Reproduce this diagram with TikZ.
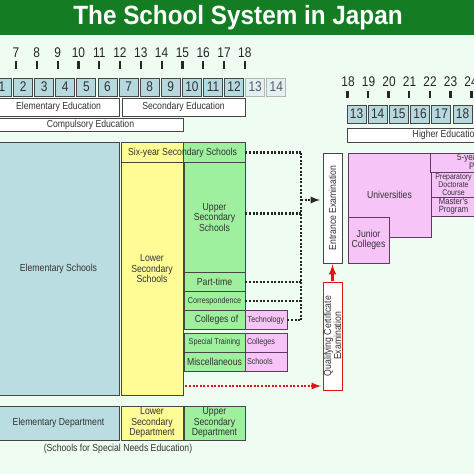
\documentclass[tikz,border=0pt]{standalone}
\usepackage{fontspec}
\setmainfont{Liberation Sans}[FakeStretch=0.85]
\newfontfamily\titlefont{Liberation Sans}[FakeStretch=0.92]
\usepackage{xcolor}
\usepackage{tikz}

\definecolor{titlegreen}{RGB}{20,125,35}
\definecolor{bgmint}{RGB}{239,252,241}
\definecolor{gradeblue}{RGB}{182,217,224}
\definecolor{schoolblue}{RGB}{186,221,225}
\definecolor{lowyellow}{RGB}{255,252,150}
\definecolor{upgreen}{RGB}{158,240,158}
\definecolor{unipink}{RGB}{246,196,246}
\definecolor{boxline}{RGB}{70,70,70}
\definecolor{pinkline}{RGB}{95,60,95}
\definecolor{exred}{RGB}{225,20,20}

\tikzset{
  box/.style={draw=boxline, line width=0.9pt, inner sep=0pt, align=center, text=black!80, font=\fontsize{10.2}{10.5}\selectfont},
  grade/.style={box, fill=gradeblue, minimum width=19, minimum height=18, font=\fontsize{14}{14}\selectfont},
  faded/.style={fill=gradeblue!40!white, draw=boxline!40, text=black!65},
  age/.style={inner sep=0pt, text=black!85, font=\fontsize{14}{14}\selectfont},
  tick/.style={line width=2.2pt, black!85},
  pinkbox/.style={box, fill=unipink, draw=pinkline},
  smalltext/.style={font=\fontsize{8.5}{9}\selectfont},
  dotline/.style={line width=2.2pt, black!85, dash pattern=on 2pt off 1.6pt},
  reddot/.style={line width=2.2pt, exred, dash pattern=on 2pt off 1.6pt},
}

\begin{document}
\begin{tikzpicture}[x=1pt,y=1pt,yscale=-1,xscale=1]
\useasboundingbox (0,0) rectangle (474,474);
\clip (0,0) rectangle (474,474);
\fill [bgmint] (0,0) rectangle (474,474);
\fill [titlegreen] (0,0) rectangle (474,35);
\node [text=white, font=\titlefont\fontsize{26.4}{28}\selectfont\bfseries] (title) at (238,18) {The School System in Japan};
%Ages
\node [age] (a7) at (16,52.5) {7};
\node [age] (a8) at (36.8,52.5) {8};
\node [age] (a9) at (57.6,52.5) {9};
\node [age] (a10) at (78.4,52.5) {10};
\node [age] (a11) at (99.2,52.5) {11};
\node [age] (a12) at (120,52.5) {12};
\node [age] (a13) at (140.8,52.5) {13};
\node [age] (a14) at (161.6,52.5) {14};
\node [age] (a15) at (182.4,52.5) {15};
\node [age] (a16) at (203.2,52.5) {16};
\node [age] (a17) at (224,52.5) {17};
\node [age] (a18) at (244.8,52.5) {18};
\draw [tick] (16,61) -- (16,69);
\draw [tick] (36.8,61) -- (36.8,69);
\draw [tick] (57.6,61) -- (57.6,69);
\draw [tick] (78.4,61) -- (78.4,69);
\draw [tick] (99.2,61) -- (99.2,69);
\draw [tick] (120,61) -- (120,69);
\draw [tick] (140.8,61) -- (140.8,69);
\draw [tick] (161.6,61) -- (161.6,69);
\draw [tick] (182.4,61) -- (182.4,69);
\draw [tick] (203.2,61) -- (203.2,69);
\draw [tick] (224,61) -- (224,69);
\draw [tick] (244.8,61) -- (244.8,69);
%Grades
\node [grade] (g1) at (2,87) {1};
\node [grade] (g2) at (23.1,87) {2};
\node [grade] (g3) at (44.2,87) {3};
\node [grade] (g4) at (65.3,87) {4};
\node [grade] (g5) at (86.4,87) {5};
\node [grade] (g6) at (107.5,87) {6};
\node [grade] (g7) at (128.6,87) {7};
\node [grade] (g8) at (149.7,87) {8};
\node [grade] (g9) at (170.8,87) {9};
\node [grade] (g10) at (191.9,87) {10};
\node [grade] (g11) at (213,87) {11};
\node [grade] (g12) at (234.1,87) {12};
\node [grade, faded] (g13) at (255.2,87) {13};
\node [grade, faded] (g14) at (276.3,87) {14};
\node [box, fill=white, minimum width=121, minimum height=18] (eleme) at (58.5,107) {Elementary Education};
\node [box, fill=white, minimum width=123, minimum height=18] (secde) at (183.5,107) {Secondary Education};
\node [box, fill=white, minimum width=185, minimum height=13] (compul) at (90.5,124.5) {Compulsory Education};
%Higher ages
\node [age] (b18) at (348,82) {18};
\node [age] (b19) at (368.5,82) {19};
\node [age] (b20) at (389,82) {20};
\node [age] (b21) at (409.5,82) {21};
\node [age] (b22) at (430,82) {22};
\node [age] (b23) at (450.5,82) {23};
\node [age] (b24) at (471,82) {24};
\draw [tick] (347.5,91) -- (347.5,98);
\draw [tick] (368,91) -- (368,98);
\draw [tick] (388.5,91) -- (388.5,98);
\draw [tick] (409,91) -- (409,98);
\draw [tick] (430,91) -- (430,98);
\draw [tick] (450.5,91) -- (450.5,98);
\draw [tick] (471.5,91) -- (471.5,98);
\node [grade] (h13) at (356.5,114) {13};
\node [grade] (h14) at (377.7,114) {14};
\node [grade] (h15) at (398.9,114) {15};
\node [grade] (h16) at (420.1,114) {16};
\node [grade] (h17) at (441.3,114) {17};
\node [grade] (h18) at (462.5,114) {18};
\node [box, fill=white, minimum width=198, minimum height=14] (higher) at (446,135) {Higher Education};
%Schools
\node [box, fill=schoolblue, minimum width=121, minimum height=253] (elems) at (58.5,269) {Elementary Schools};
\node [box, fill=lowyellow, minimum width=62, minimum height=253] (lows) at (152,269) {Lower\\Secondary\\Schools};
\node [box, fill=lowyellow, minimum width=62, minimum height=20] (sixa) at (152,152.5) {};
\node [box, fill=upgreen, minimum width=62, minimum height=20] (sixb) at (214,152.5) {};
\node [inner sep=0pt, text=black!80, font=\fontsize{10.2}{10.5}\selectfont] (sixyear) at (182.5,152.5) {Six-year Secondary Schools};
\node [box, fill=upgreen, minimum width=61, minimum height=110] (ups) at (214.5,217.5) {Upper\\Secondary\\Schools};
\node [box, fill=upgreen, minimum width=61, minimum height=19] (part) at (214.5,282) {Part-time};
\node [box, fill=upgreen, minimum width=61, minimum height=19, smalltext] (corr) at (214.5,301) {Correspondence};
\node [box, fill=upgreen, minimum width=61, minimum height=19] (collof) at (214.5,320) {\hspace{4pt}Colleges of};
\node [pinkbox, minimum width=42, minimum height=19, smalltext] (tech) at (266,320) {Technology};
\node [box, fill=upgreen, minimum width=61, minimum height=19, smalltext] (spec) at (214.5,342.5) {Special Training};
\node [pinkbox, minimum width=42, minimum height=19, smalltext, text width=38, align=left] (coll) at (266,342.5) {Colleges};
\node [box, fill=upgreen, minimum width=61, minimum height=19] (misc) at (214.5,361.5) {Miscellaneous};
\node [pinkbox, minimum width=42, minimum height=19, smalltext, text width=38, align=left] (scho) at (266,361.5) {Schools};
%Special needs
\node [box, fill=schoolblue, minimum width=121, minimum height=34] (elemd) at (58.5,423) {Elementary Department};
\node [box, fill=lowyellow, minimum width=62, minimum height=34] (lowd) at (152,423) {Lower\\Secondary\\Department};
\node [box, fill=upgreen, minimum width=61, minimum height=34] (upd) at (214.5,423) {Upper\\Secondary\\Department};
\node [inner sep=0pt, text=black!80, font=\fontsize{10.2}{10.5}\selectfont] (needs) at (118,449) {(Schools for Special Needs Education)};
%Examinations
\node [box, fill=white, minimum width=19, minimum height=110] (entr) at (332.5,208) {};
\node [inner sep=0pt, text=black!80, font=\fontsize{10.2}{10.5}\selectfont, rotate=90] (entrt) at (entr.center) {Entrance Examination};
\node [box, fill=white, draw=exred, minimum width=19, minimum height=108] (qual) at (332.5,336) {};
\node [inner sep=0pt, text=black!80, font=\fontsize{10.2}{10}\selectfont, rotate=90, align=center] (qualt) at (qual.center) {Qualifying Certificate\\Examination};
%Higher schools
\node [pinkbox, minimum width=83, minimum height=84] (univ) at (389.5,195) {Universities};
\node [pinkbox, minimum width=41, minimum height=46] (junior) at (368.5,240) {Junior\\Colleges};
\node [pinkbox, minimum width=109, minimum height=19, font=\fontsize{9.4}{9}\selectfont] (fivey) at (484.5,162.5) {5-year Doctoral\\Program};
\node [pinkbox, minimum width=45, minimum height=25, font=\fontsize{8.2}{7.8}\selectfont] (prep) at (453.5,184.5) {Preparatory\\Doctorate\\Course};
\node [pinkbox, minimum width=45, minimum height=19, font=\fontsize{9}{8}\selectfont] (mast) at (453.5,206.5) {Master's\\Program};
%Connectors
\coordinate (bus) at (301,0);
\coordinate (entin) at (323,200);
\coordinate (qin) at (323,386);
\draw [dotline] (sixb.east) -- (sixb.east -| bus);
\draw [dotline] ([yshift=-4pt]ups.east) -- ([yshift=-4pt]ups.east -| bus);
\draw [dotline] (part.east) -- (part.east -| bus);
\draw [dotline] (corr.east) -- (corr.east -| bus);
\draw [dotline] (tech.east) -- (tech.east -| bus);
\draw [dotline] (bus |- sixb.east) -- (bus |- tech.east);
\draw [dotline, -latex, shorten >=3pt] (bus |- entin) -- (entin);
\draw [reddot, -latex, shorten >=2pt] ([xshift=2pt]lows.east |- qin) -- (qin);
\draw [line width=2.4pt, exred, -latex, shorten >=1pt, shorten <=1pt] (qual.north) -- (entr.south);
\end{tikzpicture}
\end{document}
